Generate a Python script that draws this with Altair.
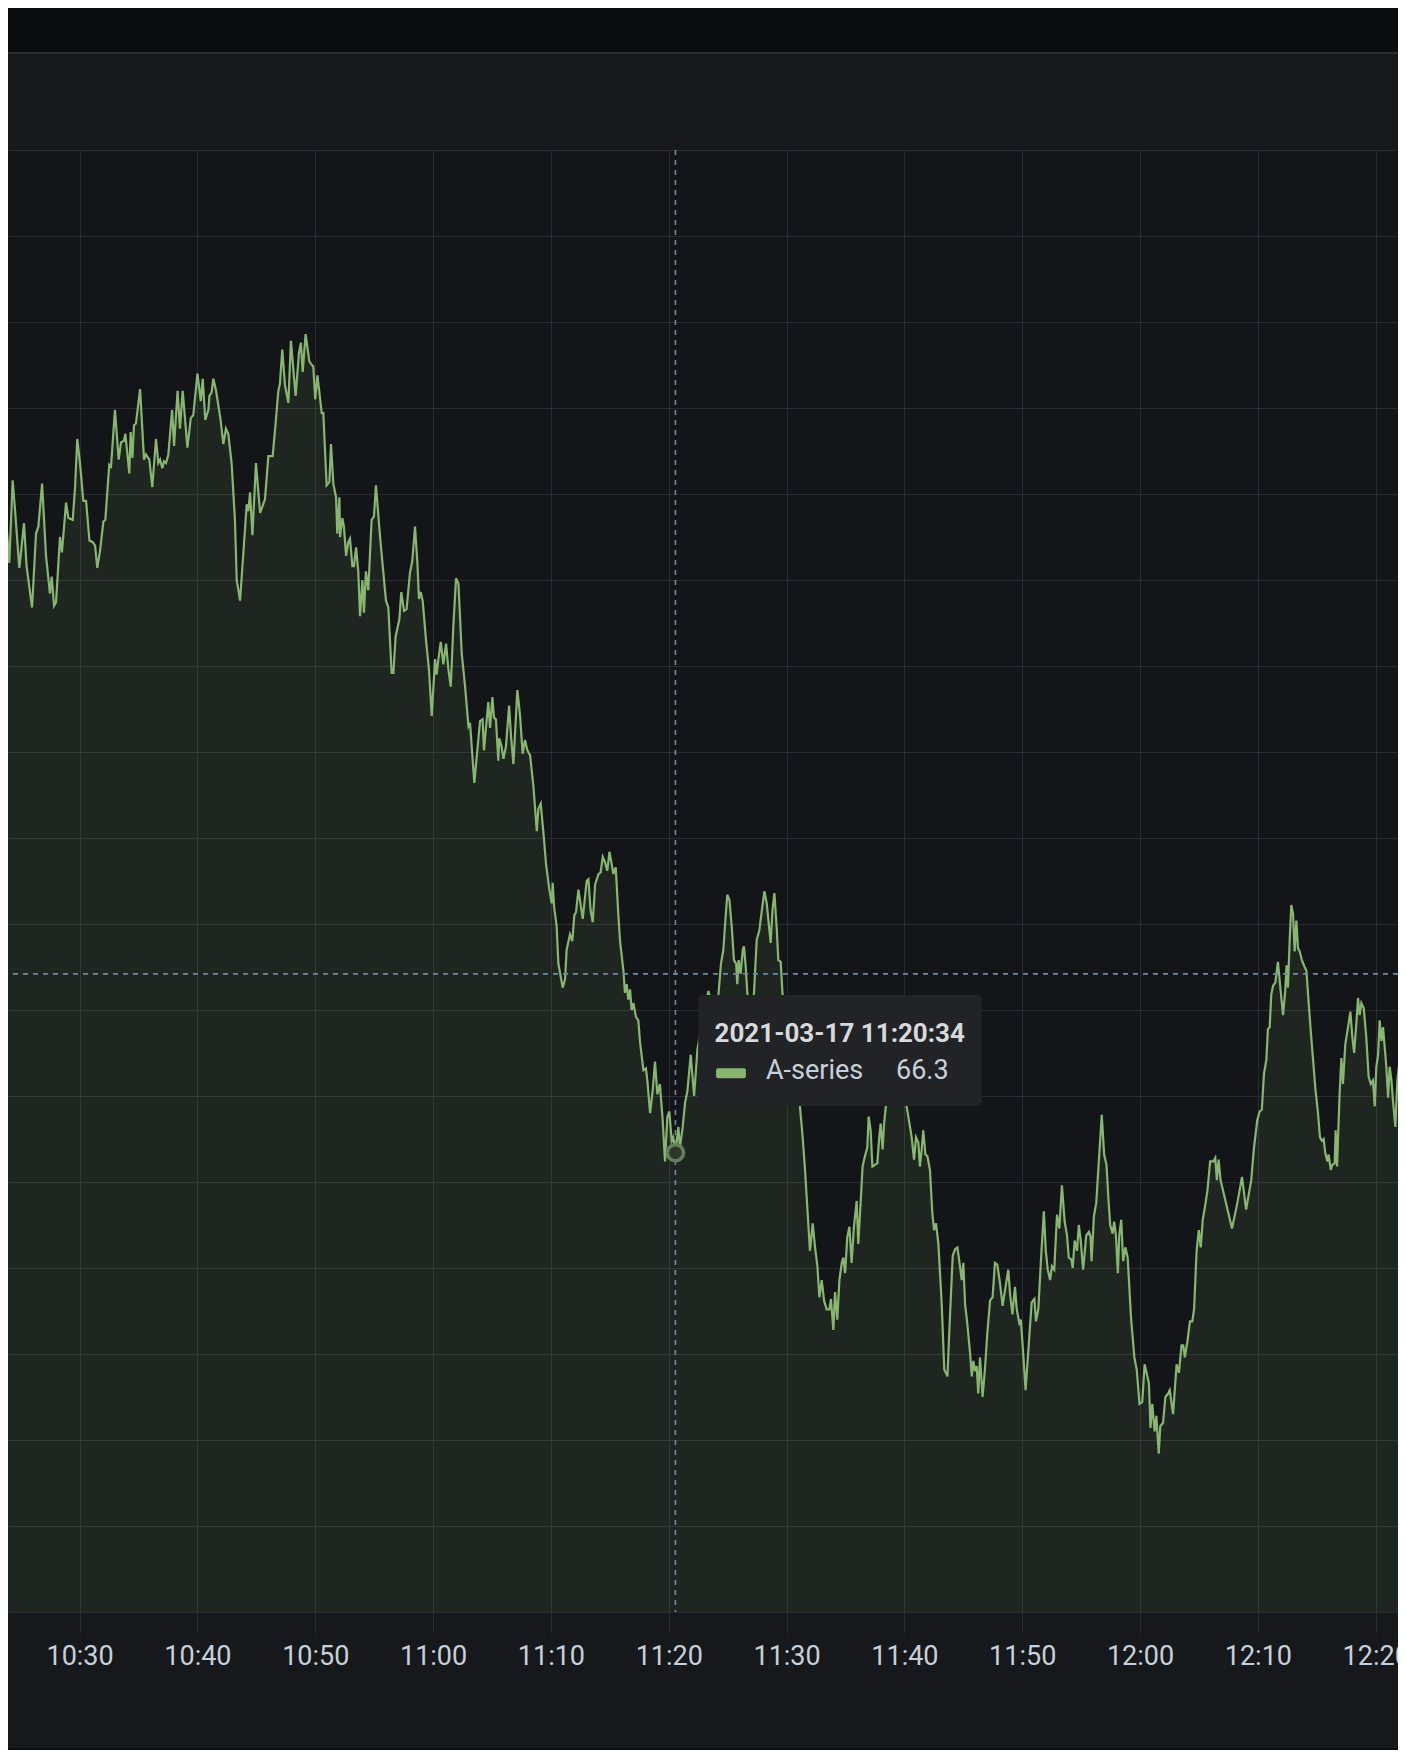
import altair as alt
import pandas as pd

# ---------------- data ----------------
DAY = "2021-03-17"
# time of each vertex, in seconds after 10:00:00 on DAY
seconds_after_10h = [
    1395, 1408, 1420, 1429, 1442, 1459, 1471, 1493, 1517, 1530, 1558, 1578, 1590, 1609, 1629, 1649,
    1658, 1670, 1680, 1700, 1710, 1731, 1743, 1765, 1777, 1788, 1802, 1819, 1833, 1850, 1867, 1879,
    1890, 1904, 1921, 1931, 1951, 1960, 1980, 1999, 2011, 2026, 2033, 2040, 2053, 2060, 2069, 2077,
    2087, 2108, 2128, 2138, 2155, 2170, 2189, 2201, 2210, 2221, 2230, 2240, 2252, 2271, 2281, 2299,
    2311, 2325, 2349, 2366, 2379, 2400, 2417, 2427, 2440, 2456,
    2461, 2472, 2481, 2495, 2518, 2532, 2545, 2557, 2574, 2591, 2600, 2617, 2634, 2651, 2659, 2668,
    2680, 2698, 2719, 2744, 2761, 2783, 2795, 2812, 2820, 2832, 2846, 2863, 2876, 2900, 2917, 2927,
    2936, 2951, 2970, 2990, 3000, 3011, 3033, 3041, 3058, 3072, 3080, 3092, 3106, 3112, 3123, 3126,
    3138, 3146, 3157, 3168, 3177, 3189, 3197, 3208, 3219, 3228, 3240, 3248, 3258, 3270, 3287, 3299,
    3309, 3330, 3347, 3360, 3372, 3389, 3398, 3409, 3428, 3438, 3452, 3465, 3482, 3494, 3508, 3520,
    3528,
    3537, 3547, 3564, 3579, 3593, 3610, 3618, 3627, 3639, 3652, 3666, 3678, 3690, 3703, 3717, 3729,
    3746, 3763, 3780, 3788, 3810, 3822, 3839, 3852, 3859, 3881, 3890, 3902, 3910, 3920, 3932, 3937,
    3949, 3958, 3971, 3987, 3997, 4009, 4029, 4043, 4056, 4068, 4080, 4094, 4111, 4128, 4136, 4148,
    4165, 4175, 4192, 4204, 4209, 4216, 4229, 4238, 4260, 4272, 4280, 4297, 4309, 4319, 4328, 4340,
    4362, 4382, 4391, 4402, 4413, 4425, 4442, 4453, 4464, 4475, 4487, 4498, 4509, 4518, 4530, 4543,
    4552,
    4569, 4577, 4586, 4594, 4603, 4611, 4620, 4633, 4645, 4654, 4671, 4684, 4691, 4705, 4718, 4730,
    4742, 4755, 4769, 4781, 4793, 4803, 4815, 4823, 4834, 4849, 4857, 4871, 4883, 4895, 4912, 4929,
    4946, 4968, 4985, 5002, 5019, 5036, 5053, 5066, 5078, 5087, 5098, 5109, 5121, 5132, 5143, 5149,
    5156, 5166, 5177, 5183, 5192, 5200, 5217, 5234, 5248, 5261, 5273, 5287, 5299, 5311, 5319, 5328,
    5338, 5350, 5358, 5370, 5379, 5400, 5426, 5448, 5468, 5482, 5494,
    5519, 5533, 5545, 5557, 5567, 5579, 5591, 5604, 5618, 5626, 5638, 5647, 5658, 5669, 5681, 5689,
    5698, 5709, 5720, 5731, 5743, 5757, 5765, 5777, 5787, 5799, 5811, 5818, 5828, 5837, 5850, 5862,
    5872, 5879, 5889, 5896, 5906, 5935, 5952, 5986, 6011, 6020, 6037, 6049, 6059, 6071, 6079, 6088,
    6096, 6107, 6117, 6130, 6142, 6151, 6161, 6173, 6190, 6203, 6219, 6232, 6246, 6258, 6270, 6283,
    6292, 6300, 6309, 6320, 6334, 6343, 6351, 6360, 6368, 6376, 6385, 6398, 6410, 6422, 6436, 6449,
    6461, 6473, 6487, 6500, 6512, 6529, 6538, 6550, 6563, 6572, 6585,
    6593, 6605, 6617, 6631, 6648, 6662, 6670, 6682, 6696, 6710, 6720, 6730, 6742, 6751, 6763, 6777,
    6789, 6802, 6816, 6828, 6837, 6850, 6857, 6867, 6879, 6888, 6897, 6910, 6926, 6940, 6948, 6953,
    6965, 6977, 6991, 7005, 7017, 7029, 7039, 7048, 7060, 7068, 7077, 7087, 7094, 7104, 7114, 7125,
    7137, 7154, 7171, 7183, 7197, 7211, 7223, 7245, 7253, 7262, 7274, 7283, 7295, 7303, 7317, 7329,
    7343, 7351, 7368, 7386, 7398, 7411, 7420, 7428, 7442, 7454, 7466, 7475, 7488, 7499, 7509, 7519,
    7531, 7543, 7557, 7574, 7583, 7591, 7600,
    7610, 7633, 7668, 7694, 7719, 7740, 7766, 7780, 7797, 7809, 7820, 7831, 7843, 7851, 7860, 7868,
    7877, 7889, 7902, 7916, 7928, 7939, 7946, 7953, 7962, 7970, 7979, 7987, 7996, 8004, 8013, 8024,
    8038, 8047, 8058, 8069, 8081, 8092, 8106, 8116, 8126, 8135, 8143, 8154, 8160, 8171, 8179, 8191,
    8196, 8203, 8216, 8225, 8233, 8245, 8259, 8271, 8281, 8290, 8301, 8310, 8318, 8327, 8339, 8352,
    8364, 8375, 8386, 8395, 8403, 8412, 8420, 8429, 8437, 8446, 8454, 8463, 8471, 8480, 8488, 8500,
    8510, 8522, 8534, 8548,
]
values = [
    101.9, 99.8, 101.9, 102.6, 100.6, 105.4, 103.7, 100.3, 102.9, 100.4, 98.0, 102.3, 102.7, 105.2, 101.0, 98.8,
    99.8, 98.1, 98.3, 102.1, 101.2, 104.1, 103.2, 103.1, 105.0, 107.8, 106.4, 104.2, 104.2, 101.9, 101.8, 101.6,
    100.3, 101.3, 103.0, 103.1, 106.3, 106.2, 109.5, 106.6, 107.6, 107.7, 108.1, 107.3, 105.8, 108.2, 106.7, 108.6,
    108.7, 110.7, 106.6, 106.9, 106.6, 105.0, 107.8, 106.4, 106.6, 106.1, 106.5, 106.4, 106.9, 109.5, 107.4, 110.6,
    108.4, 110.6, 107.3, 109.0, 109.2, 111.6, 110.0, 111.3, 108.9, 109.5,
    110.3, 110.5, 111.3, 110.6, 108.9, 107.5, 108.4, 108.1, 106.4, 103.1, 99.6, 98.4, 101.2, 104.0, 103.6, 104.7,
    102.2, 106.4, 103.5, 104.3, 106.8, 106.8, 108.3, 110.6, 111.0, 113.0, 110.9, 109.9, 113.5, 110.3, 112.8, 113.4,
    111.7, 113.9, 112.3, 112.0, 110.1, 111.5, 109.3, 109.3, 105.1, 105.3, 107.5, 105.2, 104.4, 102.3, 104.4, 102.1,
    103.2, 102.7, 101.0, 101.8, 102.0, 100.4, 100.4, 101.5, 100.1, 97.5, 99.6, 97.7, 100.1, 99.0, 103.1, 103.3,
    105.1, 102.1, 100.0, 98.4, 98.0, 94.2, 94.2, 96.3, 97.3, 98.9, 97.8, 97.9, 100.0, 100.7, 102.7, 100.6,
    98.5,
    98.9, 98.4, 96.1, 94.4, 91.7, 95.0, 94.1, 95.0, 96.0, 94.7, 95.9, 94.4, 93.4, 96.9, 99.7, 99.4,
    95.3, 93.4, 91.1, 91.3, 87.8, 89.3, 91.4, 91.5, 89.7, 92.5, 91.0, 92.8, 91.6, 91.5, 89.1, 90.4,
    89.9, 89.2, 89.9, 92.3, 90.5, 88.9, 93.2, 91.7, 89.5, 90.3, 89.7, 89.4, 87.6, 85.0, 86.3, 86.6,
    84.5, 83.1, 81.6, 80.8, 82.0, 80.6, 79.5, 77.3, 75.9, 76.4, 78.1, 79.0, 78.6, 80.1, 80.3, 81.6,
    79.9, 82.1, 82.2, 80.4, 79.7, 81.9, 82.5, 82.6, 83.5, 83.2, 82.7, 83.8, 83.1, 82.5, 82.9, 80.2,
    78.6,
    76.9, 75.6, 76.1, 75.2, 75.8, 74.6, 75.0, 74.2, 74.0, 72.7, 71.1, 71.2, 70.5, 68.6, 69.9, 71.6,
    69.7, 70.3, 68.2, 65.8, 68.4, 68.7, 67.0, 67.2, 66.3, 67.8, 66.6, 67.8, 69.2, 69.9, 72.0, 69.6,
    72.3, 73.8, 74.8, 75.7, 74.8, 74.6, 75.5, 77.3, 78.1, 79.6, 81.3, 81.0, 79.4, 77.5, 77.3, 76.1,
    77.5, 76.7, 78.1, 78.3, 77.1, 75.6, 74.2, 75.6, 78.7, 79.2, 80.3, 81.5, 80.8, 79.4, 78.5, 80.4,
    81.4, 79.3, 77.5, 77.4, 75.6, 73.8, 72.3, 70.5, 69.0, 67.2, 65.3,
    60.6, 62.2, 60.8, 59.7, 57.9, 58.9, 57.7, 57.2, 57.2, 57.8, 56.0, 58.2, 56.6, 58.9, 59.9, 60.2,
    59.3, 61.4, 62.0, 59.9, 62.0, 63.5, 61.0, 63.4, 65.5, 66.1, 66.6, 68.4, 67.6, 65.5, 65.6, 65.7,
    67.2, 68.0, 66.5, 67.9, 69.1, 70.1, 71.1, 70.3, 69.0, 68.4, 67.2, 65.9, 67.2, 66.9, 65.5, 66.5,
    67.6, 66.2, 66.1, 65.3, 62.8, 61.8, 62.2, 61.0, 57.5, 53.7, 53.3, 56.8, 60.3, 60.7, 60.8, 59.7,
    58.9, 59.9, 57.5, 56.4, 54.7, 53.3, 54.2, 53.6, 53.9, 52.3, 54.4, 52.1, 53.7, 55.8, 57.7, 57.9,
    59.9, 59.8, 58.7, 57.4, 58.3, 59.5, 58.1, 56.9, 58.5, 57.2, 56.4,
    56.6, 54.6, 52.5, 54.8, 57.6, 57.8, 56.5, 57.2, 60.2, 62.9, 60.6, 59.5, 58.9, 59.7, 59.5, 62.7,
    61.9, 64.4, 62.3, 61.5, 60.2, 60.1, 59.6, 61.2, 60.6, 62.1, 61.3, 59.5, 61.5, 61.7, 61.4, 60.0,
    62.6, 63.4, 66.0, 68.5, 66.2, 65.6, 63.6, 62.1, 61.6, 62.3, 61.5, 59.3, 61.5, 62.4, 60.0, 60.8,
    60.2, 56.7, 54.4, 53.7, 51.7, 51.8, 54.0, 52.9, 50.3, 51.7, 50.1, 51.0, 48.8, 50.4, 50.6, 52.1,
    52.3, 52.5, 51.1, 54.0, 53.5, 55.1, 55.1, 54.4, 55.4, 56.5, 56.5, 57.2, 60.6, 61.8, 60.8, 62.4,
    63.2, 64.1, 65.8, 65.8, 66.0, 64.7, 65.9,
    64.7, 63.6, 61.9, 63.3, 64.9, 63.0, 64.7, 66.6, 68.2, 68.7, 68.8, 70.9, 71.7, 73.5, 73.6, 75.5,
    76.0, 76.2, 77.4, 75.7, 74.3, 75.7, 77.2, 75.9, 78.7, 80.7, 80.2, 78.0, 79.8, 78.2, 78.0, 77.5,
    77.1, 76.9, 75.1, 73.4, 71.7, 70.1, 68.6, 67.2, 67.0, 67.1, 66.3, 65.8, 66.2, 65.3, 65.6, 65.7,
    67.6, 65.5, 69.7, 71.8, 70.3, 72.6, 73.6, 74.5, 73.0, 72.1, 73.8, 75.3, 74.3, 75.0, 74.7, 73.0,
    70.7, 70.3, 70.5, 69.0, 71.3, 72.0, 74.0, 72.8, 73.6, 72.4, 71.3, 69.5, 71.3, 70.5, 69.3, 67.8,
    70.5, 71.7, 72.6, 73.1,
]

x_tick_labels = ["10:30", "10:40", "10:50", "11:00", "11:10", "11:20",
                 "11:30", "11:40", "11:50", "12:00", "12:10", "12:20"]
y_grid_values = [39.6, 44.6, 49.6, 54.6, 59.6, 64.6, 69.6, 74.6, 79.6, 84.6,
                 89.6, 94.6, 99.6, 104.6, 109.6, 114.6, 119.6, 124.6]
y_min, y_max = 39.6, 124.6

series_name = "A-series"
hover_time = "11:20:34"
hover_value = 66.3
hover_cursor_value = 76.7

# tooltip box (time span / value span) and text anchors
tip_box_times = ["11:22:30", "11:46:34"]
tip_box_values = [75.47, 69.02]
tip_title_anchor = ("11:23:53", 72.76)
tip_swatch_times = ["11:24:01", "11:26:33"]
tip_swatch_values = [71.21, 70.63]
tip_name_anchor = ("11:28:15", 70.57)
tip_value_anchor = ("11:39:17", 70.57)

# ---------------- styling ----------------
GREEN = "#88b670"
GRID = "#2a2b30"
TEXT = "#c7d0d9"
CROSS = "#7089a0"
PANEL = "#17181c"
PLOT_BG = "#141519"
FONT = "Roboto"

W, H = 1390, 1462
PAD_TOP, PAD_BOTTOM = 142, 138


def ts(hms):
    return pd.Timestamp(f"{DAY} {hms}")


def dt(hms, ms=0):
    h, m, s = [int(p) for p in hms.split(":")]
    return alt.DateTime(year=2021, month=3, date=17, hours=h, minutes=m, seconds=s, milliseconds=ms)


base = pd.Timestamp(f"{DAY} 10:00:00")
df = pd.DataFrame({
    "time": base + pd.to_timedelta(seconds_after_10h, unit="s"),
    "value": values,
})

x_scale = alt.Scale(domain=[dt("10:23:55", 400), dt("12:21:53", 400)], nice=False)
y_scale = alt.Scale(domain=[y_min, y_max], nice=False, zero=False)

x_axis = alt.Axis(
    values=[dt(t + ":00") for t in x_tick_labels], format="%H:%M", title=None,
    grid=True, gridColor=GRID, gridWidth=1, domain=False,
    ticks=True, tickColor=GRID, tickSize=21, tickWidth=1,
    labelFont=FONT, labelFontSize=27, labelColor=TEXT, labelPadding=31,
    labelBaseline="alphabetic", labelOverlap=False, labelFlush=False,
)
y_axis = alt.Axis(values=y_grid_values, labels=False, ticks=False, domain=False,
                  title=None, grid=True, gridColor=GRID, gridWidth=1)

X = alt.X("time:T", scale=x_scale, axis=x_axis)
Y = alt.Y("value:Q", scale=y_scale, axis=y_axis)

base_chart = alt.Chart(df)

area = base_chart.mark_area(color=GREEN, fillOpacity=0.1, clip=True).encode(
    x=X, y=Y, y2=alt.datum(y_min))
line = base_chart.mark_line(color=GREEN, strokeWidth=2.2, clip=True).encode(x=X, y=Y)

one = pd.DataFrame({"k": [0]})
top_band = alt.Chart(one).mark_rect(color="#0b0c0e").encode(
    x=alt.value(0), x2=alt.value(W), y=alt.value(-PAD_TOP), y2=alt.value(-98))
top_edge = alt.Chart(one).mark_rect(color="#2b2c30").encode(
    x=alt.value(0), x2=alt.value(W), y=alt.value(-98), y2=alt.value(-96))
bottom_band = alt.Chart(one).mark_rect(color="#0b0c0e").encode(
    x=alt.value(0), x2=alt.value(W), y=alt.value(H + PAD_BOTTOM - 2), y2=alt.value(H + PAD_BOTTOM))

cross_v = alt.Chart(pd.DataFrame({"time": [ts(hover_time)]})).mark_rule(
    color=CROSS, strokeDash=[5, 5], strokeWidth=1.6).encode(x=alt.X("time:T"))
cross_h = alt.Chart(pd.DataFrame({"value": [hover_cursor_value]})).mark_rule(
    color=CROSS, strokeDash=[5, 5], strokeWidth=1.6).encode(y=alt.Y("value:Q"))

hover_pt = alt.Chart(pd.DataFrame({"time": [ts(hover_time)], "value": [hover_value]})).mark_point(
    shape="circle", filled=False, size=260, fill="#2c3629", fillOpacity=1,
    stroke="#64805a", strokeWidth=3.5).encode(x="time:T", y="value:Q")

tip_df = pd.DataFrame({"time": [ts(tip_box_times[0])], "time2": [ts(tip_box_times[1])],
                       "value": [tip_box_values[0]], "value2": [tip_box_values[1]]})
tip_box = alt.Chart(tip_df).mark_rect(color="#212327", cornerRadius=5).encode(
    x="time:T", x2="time2:T", y="value:Q", y2="value2:Q")

sw_df = pd.DataFrame({"time": [ts(tip_swatch_times[0])], "time2": [ts(tip_swatch_times[1])],
                      "value": [tip_swatch_values[0]], "value2": [tip_swatch_values[1]]})
swatch = alt.Chart(sw_df).mark_rect(color=GREEN, cornerRadius=2).encode(
    x="time:T", x2="time2:T", y="value:Q", y2="value2:Q")

title_df = pd.DataFrame({"time": [ts(tip_title_anchor[0])], "value": [tip_title_anchor[1]],
                         "label": [f"{DAY} {hover_time}"]})
tip_title = alt.Chart(title_df).mark_text(
    align="left", baseline="alphabetic", font=FONT, fontSize=26, fontWeight="bold",
    color="#d8d9da").encode(x="time:T", y="value:Q", text="label:N")

row_df = pd.DataFrame({"time": [ts(tip_name_anchor[0]), ts(tip_value_anchor[0])],
                       "value": [tip_name_anchor[1], tip_value_anchor[1]],
                       "label": [series_name, f"{hover_value}"]})
tip_row = alt.Chart(row_df).mark_text(
    align="left", baseline="alphabetic", font=FONT, fontSize=27,
    color=TEXT).encode(x="time:T", y="value:Q", text="label:N")

chart = alt.layer(
    top_band, top_edge, bottom_band, area, line, cross_v, cross_h, hover_pt,
    tip_box, swatch, tip_title, tip_row,
).properties(
    width=W, height=H,
    autosize=alt.AutoSizeParams(type="none"),
    padding={"left": 0, "right": 0, "top": PAD_TOP, "bottom": PAD_BOTTOM},
    background=PANEL,
).configure_view(fill=PLOT_BG, strokeOpacity=0)

chart.save("out.html", embed_options={"renderer": "svg", "actions": False})
